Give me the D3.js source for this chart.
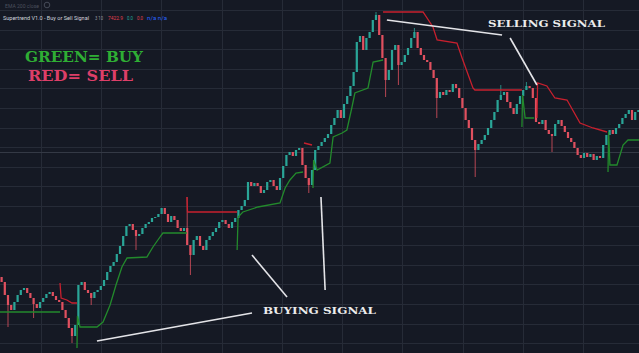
<!DOCTYPE html>
<html>
<head>
<meta charset="utf-8">
<script src="https://cdn.jsdelivr.net/npm/d3@7"></script>
<style>
  html, body { margin: 0; padding: 0; background: #151924; overflow: hidden; }
  svg { display: block; }
</style>
</head>
<body>
<div id="chart"></div>
<script>
// Closing prices, one per bar (open = previous close)
const firstOpen = 6619;
const closes = [
  6604, 6565, 6535, 6520, 6544, 6565, 6580, 6586, 6571, 6556,
  6538, 6526, 6544, 6556, 6568, 6574, 6562, 6550, 6544, 6520,
  6496, 6466, 6442, 6475, 6595, 6604, 6580, 6571, 6556, 6574,
  6580, 6592, 6610, 6634, 6652, 6664, 6688, 6712, 6742, 6772,
  6778, 6760, 6742, 6748, 6766, 6778, 6784, 6796, 6799, 6808,
  6826, 6808, 6784, 6802, 6790, 6766, 6757, 6766, 6715, 6685,
  6730, 6742, 6712, 6700, 6730, 6742, 6754, 6766, 6784, 6790,
  6778, 6766, 6784, 6796, 6820, 6832, 6850, 6904, 6892, 6901,
  6892, 6871, 6880, 6904, 6910, 6892, 6880, 6916, 6952, 6985,
  6994, 6982, 7000, 7006, 6955, 6916, 6895, 6940, 7000, 7012,
  7024, 7036, 7048, 7075, 7096, 7120, 7096, 7138, 7162, 7192,
  7234, 7324, 7342, 7300, 7336, 7354, 7390, 7405, 7345, 7276,
  7210, 7240, 7300, 7315, 7255, 7264, 7285, 7306, 7336, 7354,
  7306, 7285, 7270, 7264, 7240, 7216, 7156, 7174, 7165, 7180,
  7174, 7198, 7186, 7156, 7126, 7090, 7066, 7030, 7000, 7018,
  7030, 7045, 7066, 7090, 7114, 7150, 7165, 7174, 7144, 7126,
  7108, 7138, 7162, 7180, 7192, 7186, 7156, 7084, 7078, 7090,
  7060, 7048, 7042, 7078, 7090, 7072, 7054, 7036, 7024, 7006,
  6985, 6976, 6991, 6979, 6988, 6970, 6982, 6976, 7015, 7045,
  7060, 7048, 7066, 7078, 7096, 7108, 7120, 7090, 7114, 7120
];

// Long wicks (bar index -> price)
const lowWicks = { 2: 6469, 10: 6496, 22: 6421, 28: 6535, 42: 6700, 59: 6625,
  96: 6871, 120: 7159, 124: 7195, 136: 7096, 148: 6919, 172: 6994 };
const highWicks = { 0: 6619, 58: 6859, 117: 7414, 129: 7366, 156: 7195, 164: 7204 };

// Supertrend segments: [bar position, price]
const greenTrend = [
  [[0, 6514], [18.75, 6514]],
  [[24.06, 6406], [24.2, 6502], [25, 6469], [30.3, 6469], [32.2, 6484], [34.4, 6535], [36.25, 6595],
   [38.1, 6649], [39.7, 6676], [45.9, 6679], [47.8, 6709], [50, 6739], [50.9, 6751], [58.4, 6751]],
  [[74.1, 6700], [74.4, 6799], [75.9, 6814], [80.6, 6829], [87.5, 6841], [89.1, 6886], [90.6, 6910],
   [92.5, 6931], [94.7, 6934]],
  [[97.8, 6886], [98, 6970], [99.1, 6940], [103.1, 6961], [104.1, 7039], [106.9, 7051], [108.4, 7060],
   [110, 7129], [110.9, 7171], [115, 7186], [116.6, 7264], [119.7, 7270]],
  [[163.1, 7069], [163.3, 7165], [164.1, 7096], [166.9, 7096]],
  [[190, 6934], [190.2, 7054], [190.6, 6955], [192.8, 6955], [194.7, 7015], [196.25, 7030], [199.7, 7030]]
];
const redTrend = [
  [[18.75, 6601], [19.1, 6556], [20.9, 6550], [22.5, 6541], [24.06, 6541]],
  [[58.4, 6859], [58.6, 6814], [74.1, 6814]],
  [[95, 7021], [97.5, 7015]],
  [[119.7, 7414], [132.2, 7414], [135.3, 7369], [136.6, 7330], [142.8, 7321], [144.4, 7276],
   [147.8, 7186], [148.4, 7180], [163.1, 7180]],
  [[167.8, 7096], [168, 7201], [170.9, 7192], [173.4, 7156], [177.2, 7150], [181.25, 7081],
   [185.3, 7066], [189.7, 7054]]
];

// White pointer lines: [[bar, price], [bar, price]]
const pointers = [
  [[120.9, 7390], [156.9, 7345]],
  [[159.4, 7336], [167.8, 7195]],
  [[30.3, 6427], [78.75, 6511]],
  [[78.75, 6685], [89.7, 6559]],
  [[100.3, 6859], [101.6, 6580]]
];

(() => {
  const width = 639, height = 353;

  const x = d3.scaleLinear().domain([0, 200]).range([0, 640]);
  const y = d3.scaleLinear().domain([6391, 7450]).range([height, 0]);

  const svg = d3.select("#chart")
    .append("svg")
    .attr("width", width)
    .attr("height", height);

  svg.append("rect")
    .attr("width", width)
    .attr("height", height)
    .attr("fill", "#151924");

  // Grid
  const grid = svg.append("g").attr("stroke", "#262b37").attr("stroke-width", 1);
  grid.selectAll(".vg")
    .data(d3.range(40.7, width, 60.3))
    .join("line")
    .attr("x1", d => Math.round(d) + 0.5).attr("x2", d => Math.round(d) + 0.5)
    .attr("y1", 0).attr("y2", height);
  grid.selectAll(".hg")
    .data(d3.range(10, height, 19.6))
    .join("line")
    .attr("x1", 0).attr("x2", width)
    .attr("y1", d => Math.round(d) + 0.5).attr("y2", d => Math.round(d) + 0.5);
  grid.append("line")
    .attr("x1", 0).attr("x2", width)
    .attr("y1", 152.5).attr("y2", 152.5)
    .attr("stroke", "#343945");

  // Candles
  const candles = closes.map((c, i) => {
    const o = i ? closes[i - 1] : firstOpen;
    return {
      i, open: o, close: c,
      high: highWicks[i] ?? Math.max(o, c),
      low: lowWicks[i] ?? Math.min(o, c)
    };
  });
  const upCol = "#2aa597", downCol = "#e0505f";

  const cg = svg.append("g");
  cg.selectAll("line")
    .data(candles)
    .join("line")
    .attr("x1", d => x(d.i + 0.5)).attr("x2", d => x(d.i + 0.5))
    .attr("y1", d => y(d.high)).attr("y2", d => y(d.low))
    .attr("stroke", d => d.close >= d.open ? upCol : downCol)
    .attr("stroke-width", 0.8);
  cg.selectAll("rect")
    .data(candles)
    .join("rect")
    .attr("x", d => x(d.i + 0.5) - 1.1)
    .attr("width", 2.2)
    .attr("y", d => y(Math.max(d.open, d.close)))
    .attr("height", d => Math.max(1, Math.abs(y(d.open) - y(d.close))))
    .attr("fill", d => d.close >= d.open ? upCol : downCol);

  // Supertrend
  const line = d3.line().x(d => x(d[0])).y(d => y(d[1]));
  svg.append("g").selectAll("path")
    .data(greenTrend)
    .join("path")
    .attr("fill", "none")
    .attr("stroke", "#238a2c")
    .attr("stroke-width", 1.3)
    .attr("d", line);
  svg.append("g").selectAll("path")
    .data(redTrend)
    .join("path")
    .attr("fill", "none")
    .attr("stroke", "#c8202e")
    .attr("stroke-width", 1.3)
    .attr("d", line);

  // Pointer lines
  svg.append("g").selectAll("path")
    .data(pointers)
    .join("path")
    .attr("fill", "none")
    .attr("stroke", "#e4e4e8")
    .attr("stroke-width", 1.6)
    .attr("d", line);

  // Header legend
  const legend = svg.append("g").attr("font-family", "Roboto, sans-serif");
  legend.append("text")
    .attr("x", 5).attr("y", 8)
    .attr("font-size", 6)
    .attr("fill", "#4b505d")
    .attr("textLength", 34)
    .attr("lengthAdjust", "spacingAndGlyphs")
    .text("EMA 200 close");
  legend.append("circle")
    .attr("cx", 47).attr("cy", 5).attr("r", 2.8)
    .attr("fill", "none").attr("stroke", "#4b505d").attr("stroke-width", 0.9);
  const parts = [
    { t: "Supertrend V1.0 - Buy or Sell Signal", x: 3, w: 86, c: "#d1d4dc" },
    { t: "3 10", x: 95, w: 8, c: "#9598a1" },
    { t: "7422.9", x: 108, w: 15, c: "#e0404f" },
    { t: "0.0", x: 127, w: 6, c: "#26a69a" },
    { t: "0.0", x: 137, w: 6, c: "#e0404f" },
    { t: "n/a n/a", x: 147, w: 20, c: "#2962ff" }
  ];
  legend.selectAll(".part")
    .data(parts)
    .join("text")
    .attr("x", d => d.x).attr("y", 20)
    .attr("font-size", 5.2)
    .attr("fill", d => d.c)
    .attr("textLength", d => d.w)
    .attr("lengthAdjust", "spacingAndGlyphs")
    .text(d => d.t);

  // Big labels
  const labels = [
    { t: "GREEN= BUY", x: 25, y: 62, w: 118, s: 14, c: "#2fae34" },
    { t: "RED= SELL", x: 28, y: 81, w: 105, s: 14, c: "#dd3f68" },
    { t: "SELLING SIGNAL", x: 488, y: 27, w: 117, s: 9.5, c: "#ececec" },
    { t: "BUYING SIGNAL", x: 263, y: 314, w: 113, s: 9.5, c: "#ececec" }
  ];
  svg.append("g").selectAll("text")
    .data(labels)
    .join("text")
    .attr("x", d => d.x).attr("y", d => d.y)
    .attr("font-family", "'DejaVu Serif', serif")
    .attr("font-weight", "bold")
    .attr("font-size", d => d.s)
    .attr("fill", d => d.c)
    .attr("textLength", d => d.w)
    .attr("lengthAdjust", "spacingAndGlyphs")
    .text(d => d.t);
})();
</script>
</body>
</html>
